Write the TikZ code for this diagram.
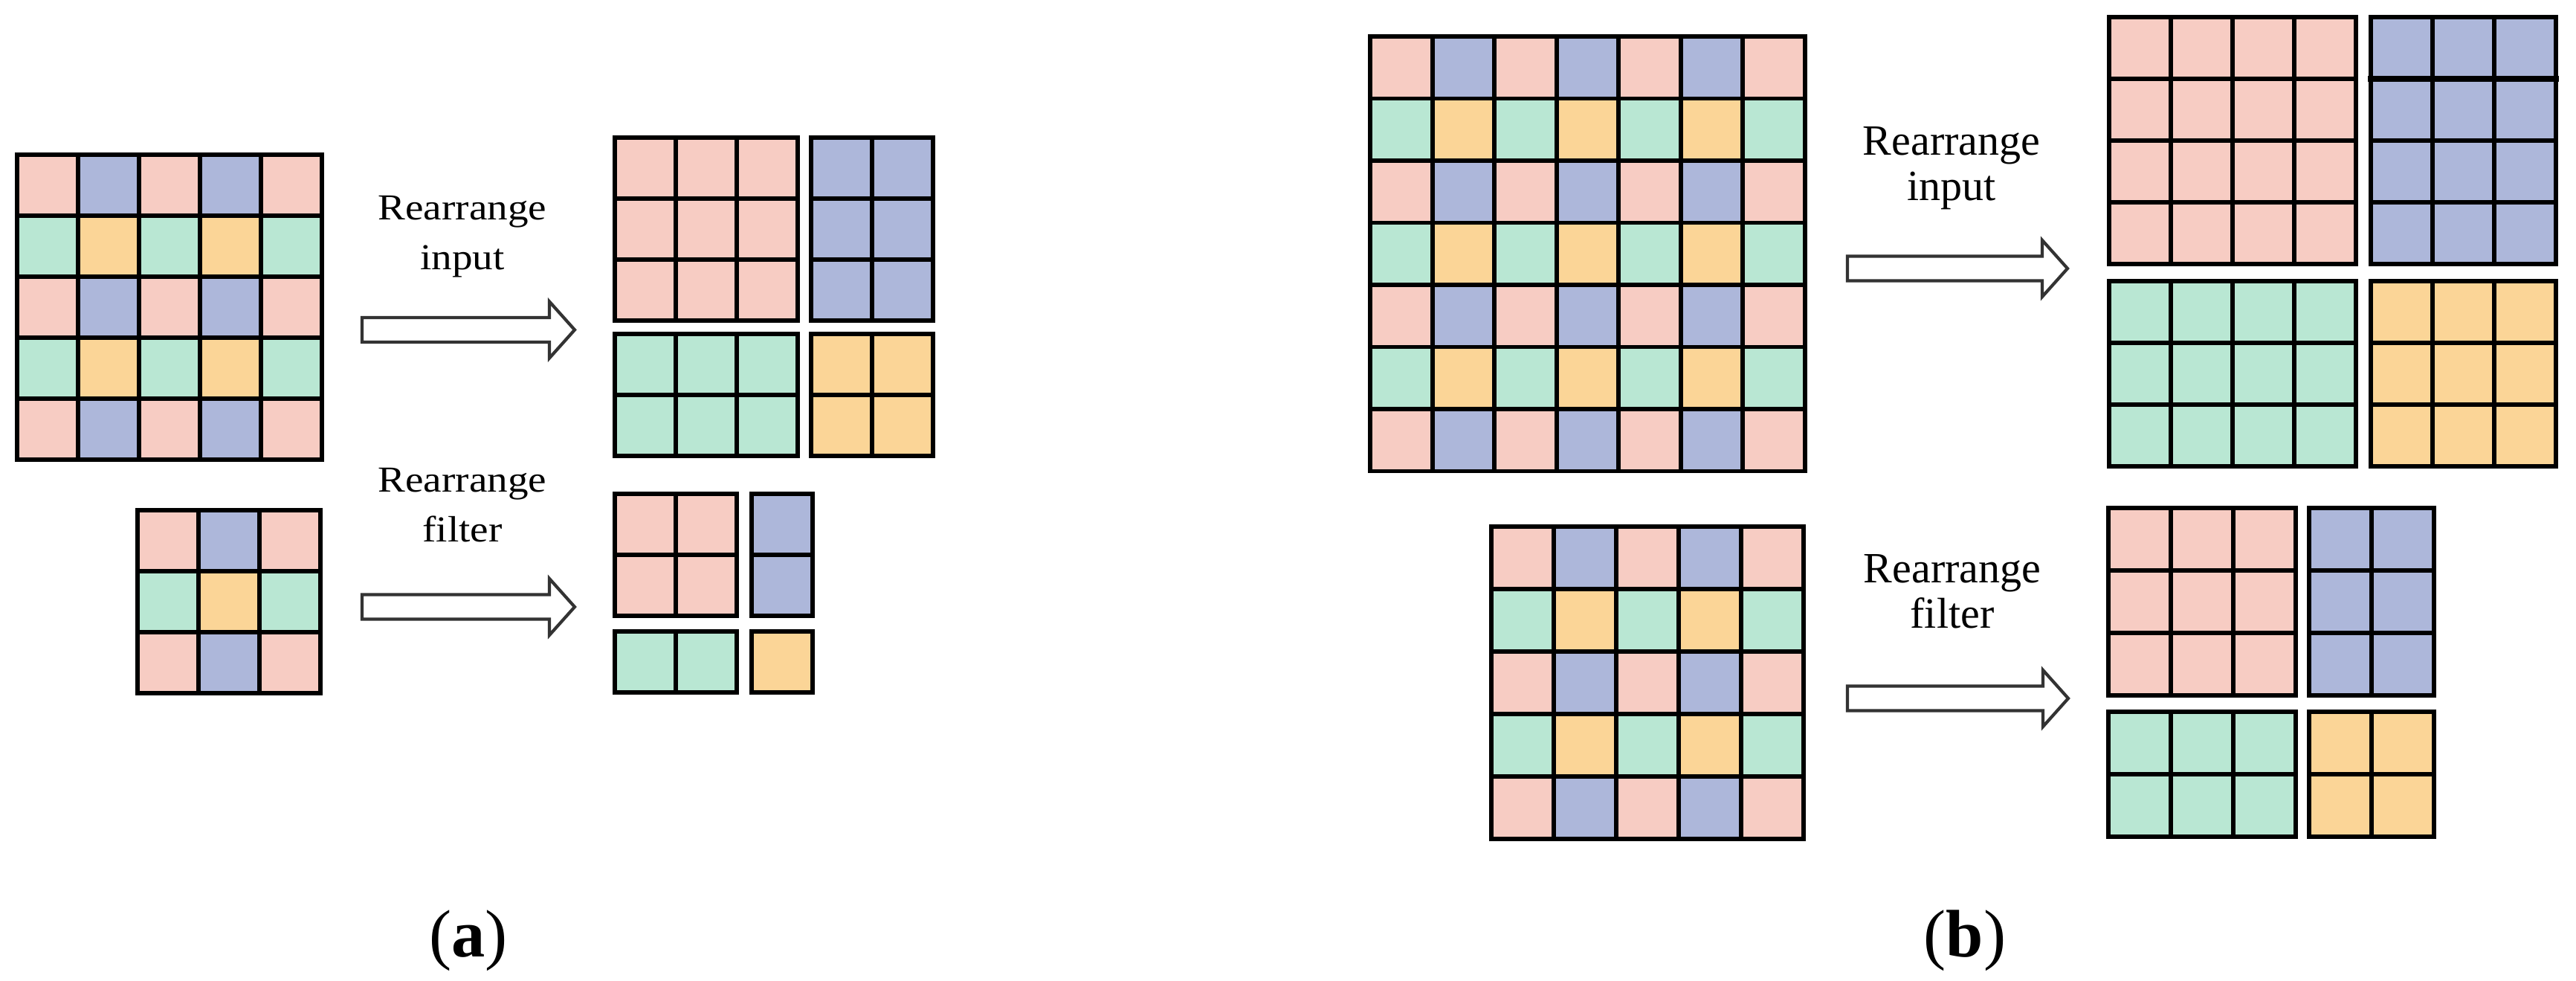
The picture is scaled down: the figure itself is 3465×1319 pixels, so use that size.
\documentclass[tikz,border=0pt]{standalone}
\usepackage{graphicx}
\usepackage{xcolor}
\usepackage{fontspec}
\setmainfont{Liberation Serif}
\usepackage{tikz}
\usetikzlibrary{positioning}
\definecolor{pastelpink}{RGB}{247,204,195}
\definecolor{pastelblue}{RGB}{173,183,218}
\definecolor{pastelgreen}{RGB}{185,231,211}
\definecolor{pastelyellow}{RGB}{251,213,151}

\tikzset{
  cellline/.style={line width=1.7pt, line cap=rect, black},
  arrowline/.style={line width=1.2pt, black!80, fill=white, line join=miter},
  lblsmall/.style={font=\fontsize{14}{19.3}\selectfont, align=center, anchor=base},
  lblbig/.style={font=\fontsize{16.5}{17.6}\selectfont, align=center, anchor=base},
  subcap/.style={font=\fontsize{25.7}{28}\selectfont, anchor=base}
}

% one colour block: x, y, cols, rows, cell, colour
\newcommand{\plainblock}[6]{%
  \fill[#6] (#1,#2) rectangle ({#1+#3*#5},{#2+#4*#5});
  \foreach \i in {0,...,#3} \draw[cellline] ({#1+\i*#5},#2) -- ++(0,{#4*#5});
  \foreach \j in {0,...,#4} \draw[cellline] (#1,{#2+\j*#5}) -- ++({#3*#5},0);
}

% chequered block: x, y, n, cell
\newcommand{\checkblock}[4]{%
  \foreach \r in {1,...,#3}{
    \foreach \c in {1,...,#3}{
      \pgfmathtruncatemacro{\k}{2*mod(\r+1,2)+mod(\c+1,2)}
      \ifcase\k \def\tone{pastelpink}\or \def\tone{pastelblue}\or \def\tone{pastelgreen}\else \def\tone{pastelyellow}\fi
      \fill[\tone] ({#1+(\c-1)*#4},{#2+(\r-1)*#4}) rectangle ++(#4,#4);
    }
  }
  \foreach \i in {0,...,#3} \draw[cellline] ({#1+\i*#4},#2) -- ++(0,{#3*#4});
  \foreach \i in {0,...,#3} \draw[cellline] (#1,{#2+\i*#4}) -- ++({#3*#4},0);
}

% hollow arrow: x start, x tip, y middle
\newcommand{\hollowarrow}[3]{%
  \draw[arrowline] (#1,{#3-16.5}) -- ({#2-34},{#3-16.5}) -- ({#2-34},{#3-38}) -- (#2,#3)
    -- ({#2-34},{#3+38}) -- ({#2-34},{#3+16.5}) -- (#1,{#3+16.5}) -- cycle;
}

\begin{document}
\begin{tikzpicture}[x=0.01cm, y=-0.01cm]
\useasboundingbox (0,0) rectangle (3465,1319);

%% (a)
\checkblock{23}{208}{5}{82}
\checkblock{185}{686}{3}{82}
\plainblock{827}{185}{3}{3}{82}{pastelpink}
\plainblock{1091}{185}{2}{3}{82}{pastelblue}
\plainblock{827}{449}{3}{2}{82}{pastelgreen}
\plainblock{1091}{449}{2}{2}{82}{pastelyellow}
\plainblock{827}{664}{2}{2}{82}{pastelpink}
\plainblock{1011}{664}{1}{2}{82}{pastelblue}
\plainblock{827}{849}{2}{1}{82}{pastelgreen}
\plainblock{1011}{849}{1}{1}{82}{pastelyellow}
\hollowarrow{487}{773}{443.5}
\hollowarrow{487}{773}{816}
\node[lblsmall] (lblainput) at (622,363) {\scalebox{1.12}[1]{Rearrange}\\\scalebox{1.12}[1]{input}};
\node[lblsmall] (lblafilter) at (622,729) {\scalebox{1.12}[1]{Rearrange}\\\scalebox{1.12}[1]{filter}};
\node[subcap] (capa) at (630,1286) {(\textbf{a})};

%% (b)
\checkblock{1843}{49}{7}{83.5}
\checkblock{2006}{708}{5}{84}
\plainblock{2837}{23}{4}{4}{83}{pastelpink}
\plainblock{3189}{23}{3}{4}{83}{pastelblue}
\draw[cellline, line width=2.4pt] (3189,106) -- (3438,106);
\plainblock{2837}{378}{4}{3}{83}{pastelgreen}
\plainblock{3189}{378}{3}{3}{83}{pastelyellow}
\plainblock{2836}{683}{3}{3}{84}{pastelpink}
\plainblock{3106}{683}{2}{3}{84}{pastelblue}
\plainblock{2836}{957}{3}{2}{84}{pastelgreen}
\plainblock{3106}{957}{2}{2}{84}{pastelyellow}
\hollowarrow{2485}{2781}{361}
\hollowarrow{2485}{2782}{939}
\node[lblbig] (lblbinput) at (2625,270) {Rearrange\\input};
\node[lblbig] (lblbfilter) at (2626,845) {Rearrange\\filter};
\node[subcap] (capb) at (2643,1286) {(\textbf{b})};
\end{tikzpicture}
\end{document}
